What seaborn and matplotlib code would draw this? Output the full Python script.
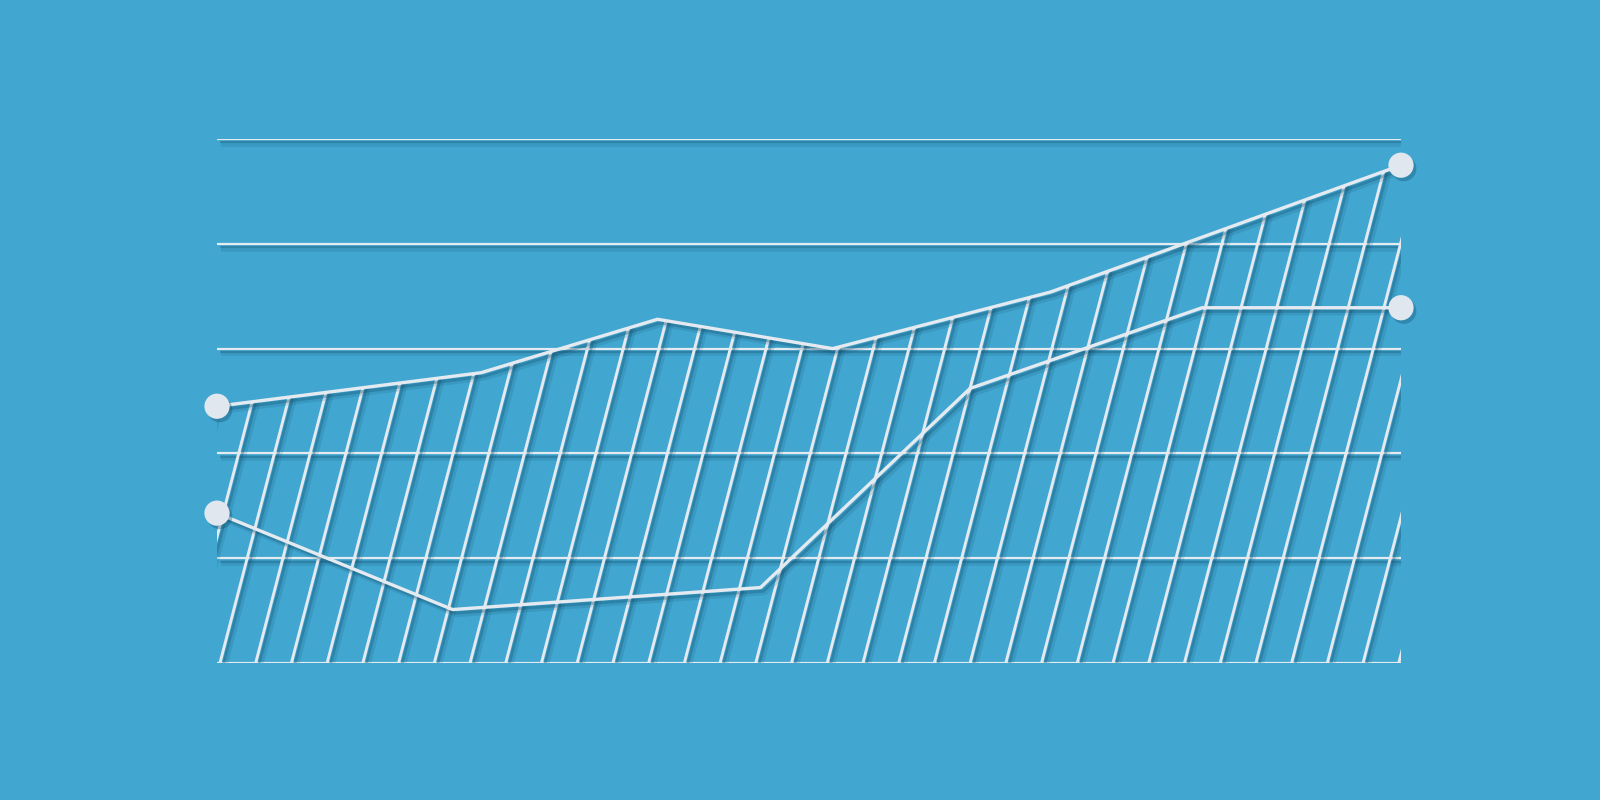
import numpy as np
import seaborn as sns
import matplotlib
matplotlib.use("Agg")
import matplotlib.pyplot as plt
import matplotlib.patheffects as pe
from matplotlib.collections import LineCollection

# values (x on a 0-100 scale, y on a 0-5 grid)
upper_x = [0, 22.3, 37.2, 52.0, 70.4, 100]
upper_y = [2.45, 2.77, 3.28, 3.00, 3.54, 4.75]
lower_x = [0, 19.9, 45.9, 63.6, 83.2, 100]
lower_y = [1.43, 0.51, 0.72, 2.62, 3.39, 3.39]
grid_levels = [0, 1, 2, 3, 4, 5]

BG = "#41A6D0"
LINE = "#E4EAF0"
DOT = "#E1E7EE"
SHADE = "#12506f"

sns.set_style("white")

fig = plt.figure(figsize=(16, 8), dpi=100, facecolor=BG)
ax = fig.add_axes([217 / 1600, 137 / 800, 1184 / 1600, 524 / 800])
ax.set_facecolor(BG)

# soft drop shadow under every line
shadow = [pe.SimpleLineShadow(offset=(3, -3.5), shadow_color=SHADE, alpha=0.15, linewidth=4),
          pe.SimpleLineShadow(offset=(2, -2.5), shadow_color=SHADE, alpha=0.3),
          pe.Normal()]

# horizontal grid lines
ax.hlines(grid_levels, 0, 100, colors=LINE, linewidth=1.6, path_effects=shadow, zorder=1)

# slanted hatch lines under the upper series
fill = ax.fill_between(upper_x, 0, upper_y, facecolor="none", edgecolor="none")
spacing = 3.017
slant = 2.30  # x shift per unit of y
starts = np.arange(0.25 - 4 * spacing, 100 + spacing, spacing)
segs = [[(s, 0), (s + slant * 5, 5)] for s in starts]
hatch = LineCollection(segs, colors=LINE, linewidths=2.1, path_effects=shadow, zorder=2)
ax.add_collection(hatch)
hatch.set_clip_path(fill.get_paths()[0], ax.transData)

# the two series
sns.lineplot(x=upper_x, y=upper_y, ax=ax, color=LINE, linewidth=2.4, sort=False,
             path_effects=shadow, zorder=3)
sns.lineplot(x=lower_x, y=lower_y, ax=ax, color=LINE, linewidth=2.4, sort=False,
             path_effects=shadow, zorder=3)

# end markers
ends_x = [upper_x[0], upper_x[-1], lower_x[0], lower_x[-1]]
ends_y = [upper_y[0], upper_y[-1], lower_y[0], lower_y[-1]]
sns.scatterplot(x=ends_x, y=ends_y, ax=ax, s=330, color=DOT, linewidth=0,
                clip_on=False, zorder=5)
ax.collections[-1].set_path_effects([
    pe.SimplePatchShadow(offset=(2, -2.5), shadow_rgbFace=SHADE, alpha=0.35),
    pe.Normal()])

ax.set_xlim(0, 100)
ax.set_ylim(0, 5)
ax.axis("off")

fig.savefig("out.png", dpi=100, facecolor=BG)
